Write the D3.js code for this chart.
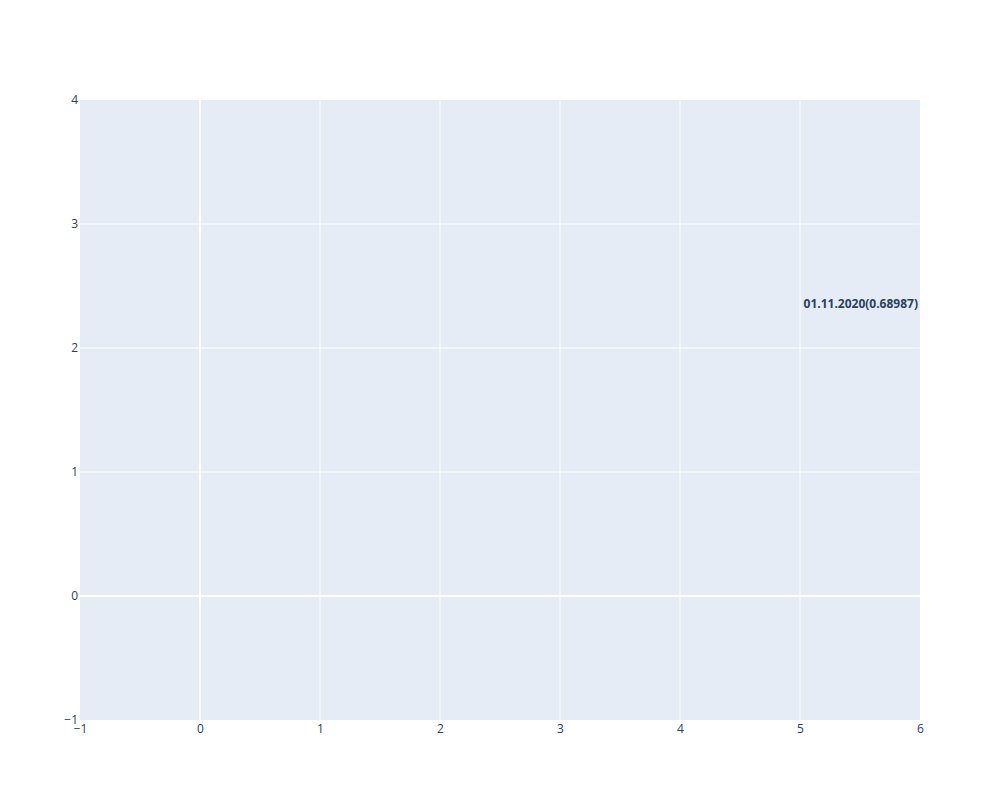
<!DOCTYPE html>
<html lang="en">
<head>
  <meta charset="UTF-8">
  <title>Annotation chart</title>
  <script src="https://d3js.org/d3.v7.min.js"></script>
  <style>
    body { margin: 0; background: #fff; }
    svg text { font-family: "Open Sans", sans-serif; }
  </style>
</head>
<body>
  <svg width="1000" height="800"></svg>
  <script>
    // axis ranges and ticks
    const xDomain = [-1, 6];
    const yDomain = [-1, 4];
    const xTicks = [-1, 0, 1, 2, 3, 4, 5, 6];
    const yTicks = [-1, 0, 1, 2, 3, 4];

    // the one annotation on the chart
    const noteLabels = ["01.11.2020(0.68987)"];
    const noteX = [6];
    const noteY = [2.36];

    const svg = d3.select("svg");
    const margin = { top: 100, right: 80, bottom: 80, left: 80 };
    const width = 1000, height = 800;

    const x = d3.scaleLinear().domain(xDomain).range([margin.left, width - margin.right]);
    const y = d3.scaleLinear().domain(yDomain).range([height - margin.bottom, margin.top]);

    const fmt = d => d < 0 ? "\u2212" + Math.abs(d) : String(d);

    // plot background
    svg.append("rect")
      .attr("x", x(xDomain[0]))
      .attr("y", y(yDomain[1]))
      .attr("width", x(xDomain[1]) - x(xDomain[0]))
      .attr("height", y(yDomain[0]) - y(yDomain[1]))
      .attr("fill", "#e5ecf6");

    // grid lines
    svg.append("g").selectAll("line")
      .data(xTicks.filter(d => d > xDomain[0] && d < xDomain[1]))
      .join("line")
      .attr("x1", d => x(d)).attr("x2", d => x(d))
      .attr("y1", y(yDomain[1])).attr("y2", y(yDomain[0]))
      .attr("stroke", "#fff")
      .attr("stroke-width", d => d === 0 ? 2 : 1);

    svg.append("g").selectAll("line")
      .data(yTicks.filter(d => d > yDomain[0] && d < yDomain[1]))
      .join("line")
      .attr("x1", x(xDomain[0])).attr("x2", x(xDomain[1]))
      .attr("y1", d => y(d)).attr("y2", d => y(d))
      .attr("stroke", "#fff")
      .attr("stroke-width", d => d === 0 ? 2 : 1);

    // axes (labels only, like plotly)
    const xAxis = svg.append("g")
      .attr("transform", `translate(0,${y(yDomain[0])})`)
      .call(d3.axisBottom(x).tickValues(xTicks).tickFormat(fmt).tickSize(0).tickPadding(4));
    const yAxis = svg.append("g")
      .attr("transform", `translate(${x(xDomain[0])},0)`)
      .call(d3.axisLeft(y).tickValues(yTicks).tickFormat(fmt).tickSize(0).tickPadding(2));

    [xAxis, yAxis].forEach(a => {
      a.select(".domain").remove();
      a.selectAll("text")
        .attr("fill", "#2a3f5f")
        .style("font-size", "12px")
        .style("font-family", "'Open Sans', sans-serif");
    });

    // annotation
    svg.append("g").selectAll("text")
      .data(noteLabels)
      .join("text")
      .attr("x", (d, i) => x(noteX[i]) - 2)
      .attr("y", (d, i) => y(noteY[i]))
      .attr("dy", "0.35em")
      .attr("text-anchor", "end")
      .attr("fill", "#2a3f5f")
      .style("font-size", "12px")
      .style("font-weight", "bold")
      .text(d => d);
  </script>
</body>
</html>
